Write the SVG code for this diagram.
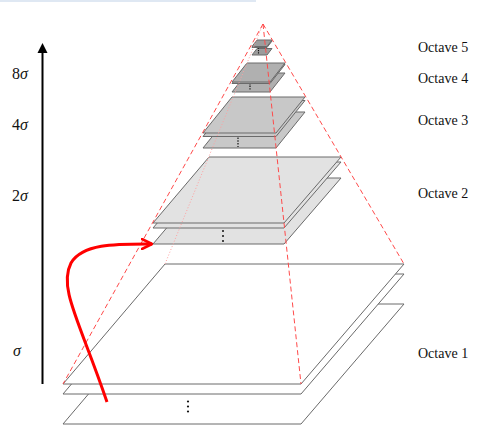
<svg xmlns="http://www.w3.org/2000/svg" width="488" height="437" viewBox="0 0 488 437">
<style>
.l{stroke:#6a6a6a;stroke-width:1;stroke-linejoin:miter}
.o1{fill:#ffffff}.o2{fill:#e2e2e2}.o3{fill:#c8c8c8}.o4{fill:#b0b0b0}.o5{fill:#9c9c9c}
.dot{fill:#111}
.lbl{font-family:"Liberation Serif","Times New Roman",serif;font-size:14px;fill:#111}
.sig{font-family:"Liberation Serif","Times New Roman",serif;font-size:16px;fill:#111}
.rd{stroke:#ff4a4a;stroke-width:1;stroke-dasharray:5,3;fill:none}
.rf{stroke:#ffa0a0;stroke-width:1;stroke-dasharray:1,2;fill:none}
</style>
<defs>
<marker id="ah" viewBox="0 0 12 12" refX="11" refY="6" markerWidth="12" markerHeight="12" markerUnits="userSpaceOnUse" orient="auto">
<path d="M1,1 L11,6 L1,11" fill="none" stroke="#ff0000" stroke-width="2.6" stroke-linecap="round" stroke-linejoin="round"/>
</marker>
</defs>
<rect x="0" y="0" width="256" height="2" fill="#dfe8f3"/>

<g id="axis">
<line x1="42.5" y1="384" x2="42.5" y2="52" stroke="#000" stroke-width="2"/>
<polygon points="42.5,43 37.5,53 47.5,53" fill="#000"/>
<text class="sig" x="12" y="79">8<tspan font-style="italic">σ</tspan></text>
<text class="sig" x="12" y="130">4<tspan font-style="italic">σ</tspan></text>
<text class="sig" x="12" y="201">2<tspan font-style="italic">σ</tspan></text>
<text class="sig" x="13" y="356" font-style="italic">σ</text>
</g>

<g id="octave1">
<polygon class="l o1" points="63,424 301,424 404,304 165,304"/>
<polygon class="l o1" points="63,394 301,394 404,274 165,274"/>
<polygon class="l o1" points="63,384 301,384 404,264 165,264"/>
<circle class="dot" cx="188" cy="401.5" r="1.1"/><circle class="dot" cx="188" cy="406.5" r="1.1"/><circle class="dot" cx="188" cy="411.5" r="1.1"/>
<text class="lbl" x="418" y="358">Octave 1</text>
</g>

<g id="octave2">
<polygon class="l o2" points="153,244 284,244 341,178 209,178"/>
<circle class="dot" cx="223" cy="231" r="1"/><circle class="dot" cx="223" cy="236" r="1"/><circle class="dot" cx="223" cy="241" r="1"/>
<polygon class="l o2" points="153,228 284,228 341,162 209,162"/>
<polygon class="l o2" points="153,223 284,223 341,157 209,157"/>
<text class="lbl" x="418" y="198">Octave 2</text>
</g>

<g id="octave3">
<polygon class="l o3" points="203,148 276,148 305,112 232,112"/>
<line x1="238" y1="137.5" x2="238" y2="147" stroke="#111" stroke-width="1.2" stroke-dasharray="1.5,1.3"/>
<polygon class="l o3" points="203,136.5 276,136.5 305,100.5 232,100.5"/>
<polygon class="l o3" points="203,133 276,133 305,97 232,97"/>
<text class="lbl" x="418" y="125">Octave 3</text>
</g>

<g id="octave4">
<polygon class="l o4" points="232,92 270,92 285,73 247,73"/>
<line x1="250" y1="83" x2="250" y2="90" stroke="#111" stroke-width="1.2" stroke-dasharray="1.4,1.2"/>
<polygon class="l o4" points="232,83.5 270,83.5 285,64.5 247,64.5"/>
<polygon class="l o4" points="232,82 270,82 285,63 247,63"/>
<text class="lbl" x="418" y="83">Octave 4</text>
</g>

<g id="octave5">
<polygon class="l o5" points="252,55 267,55 272,48.5 257,48.5"/>
<line x1="258.5" y1="47.5" x2="258.5" y2="54" stroke="#111" stroke-width="1.1" stroke-dasharray="1.3,1.1"/>
<polygon class="l o5" points="252,47.5 267,47.5 272,41 257,41"/>
<polygon class="l o5" points="252,46.5 267,46.5 272,40 257,40"/>
<text class="lbl" x="418" y="52">Octave 5</text>
</g>

<g id="connectors">
<line class="rf" x1="263" y1="24" x2="165" y2="264"/>
<line class="rd" x1="263" y1="24" x2="63" y2="384"/>
<line class="rd" x1="263" y1="24" x2="301" y2="384"/>
<line class="rd" x1="263" y1="24" x2="404" y2="264"/>
<path d="M107,402 C80,322 58,288 71,263 C83,243 118,244 152,244" fill="none" stroke="#ff0000" stroke-width="3" marker-end="url(#ah)"/>
</g>
</svg>
